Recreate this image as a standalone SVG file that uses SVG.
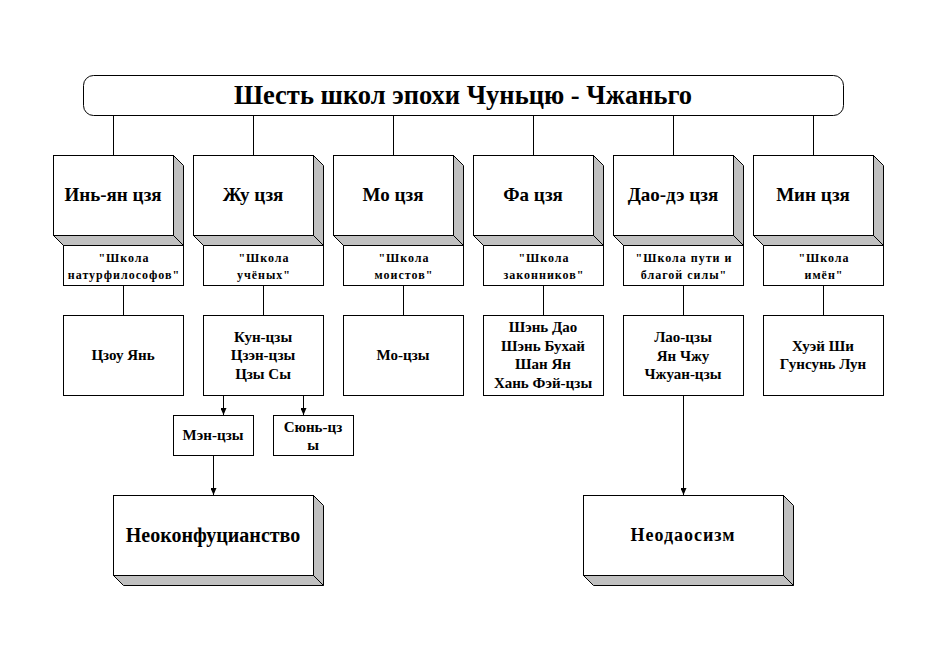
<svg xmlns="http://www.w3.org/2000/svg" width="936" height="667" viewBox="0 0 936 667">
<defs>
<style>
.t{font-family:"Liberation Serif","Times New Roman",serif;font-weight:bold;fill:#000;text-anchor:middle}
.title{font-size:26.5px}
.main{font-size:19px}
.sub{font-size:12px;letter-spacing:1px}
.per{font-size:15px}
.big{font-size:20px}
.box{fill:#fff;stroke:#000;stroke-width:1}
.ext{fill:#c0c0c0;stroke:#000;stroke-width:1;stroke-linejoin:miter}
.ln{fill:none;stroke:#000;stroke-width:1}
</style>
<marker id="ah" markerUnits="userSpaceOnUse" markerWidth="8" markerHeight="6" refX="7" refY="3" orient="auto">
<path d="M0,0 L7,3 L0,6 Z" fill="#000"/>
</marker>
</defs>
<rect width="936" height="667" fill="#fff"/>

<g id="connectors">
<path class="ln" d="M113.5,115.5V155.5M253.5,115.5V155.5M393.5,115.5V155.5M533.5,115.5V155.5M673.5,115.5V155.5M813.5,115.5V155.5"/>
<path class="ln" d="M123.5,285.5V315.5M263.5,285.5V315.5M403.5,285.5V315.5M543.5,285.5V315.5M683.5,285.5V315.5M823.5,285.5V315.5"/>
<path class="ln" d="M223.5,395.5V415" marker-end="url(#ah)"/>
<path class="ln" d="M303.5,395.5V415" marker-end="url(#ah)"/>
<path class="ln" d="M213.5,455.5V495" marker-end="url(#ah)"/>
<path class="ln" d="M683.5,395.5V495" marker-end="url(#ah)"/>
</g>

<g id="title">
<rect class="box" x="83.5" y="75.5" width="760" height="40" rx="10" ry="10"/>
<text class="t title" x="463" y="104">Шесть школ эпохи Чуньцю - Чжаньго</text>
</g>

<g id="yinyang">
<path class="ext" d="M173.5,155.5L183.5,165.5V245.5H63.5L53.5,235.5H173.5Z"/>
<path class="ln" d="M173.5,235.5L183.5,245.5"/>
<rect class="box" x="53.5" y="155.5" width="120" height="80"/>
<text class="t main" x="113" y="201">Инь-ян цзя</text>
</g>
<g id="yinyang-sub">
<rect class="box" x="63.5" y="245.5" width="120" height="40"/>
<text class="t sub" x="124" y="262">"Школа</text>
<text class="t sub" x="124" y="279">натурфилософов"</text>
</g>
<g id="zouyan">
<rect class="box" x="63.5" y="315.5" width="120" height="80"/>
<text class="t per" x="123" y="360">Цзоу Янь</text>
</g>

<g id="ru">
<path class="ext" d="M313.5,155.5L323.5,165.5V245.5H203.5L193.5,235.5H313.5Z"/>
<path class="ln" d="M313.5,235.5L323.5,245.5"/>
<rect class="box" x="193.5" y="155.5" width="120" height="80"/>
<text class="t main" x="253" y="201">Жу цзя</text>
</g>
<g id="ru-sub">
<rect class="box" x="203.5" y="245.5" width="120" height="40"/>
<text class="t sub" x="264" y="262">"Школа</text>
<text class="t sub" x="264" y="279">учёных"</text>
</g>
<g id="kongzi">
<rect class="box" x="203.5" y="315.5" width="120" height="80"/>
<text class="t per" x="263" y="342">Кун-цзы</text>
<text class="t per" x="263" y="360">Цзэн-цзы</text>
<text class="t per" x="263" y="379">Цзы Сы</text>
</g>
<g id="mengzi">
<rect class="box" x="173.5" y="415.5" width="80" height="40"/>
<text class="t per" x="213" y="440">Мэн-цзы</text>
</g>
<g id="xunzi">
<rect class="box" x="273.5" y="415.5" width="80" height="40"/>
<text class="t per" x="313" y="432">Сюнь-цз</text>
<text class="t per" x="313" y="450">ы</text>
</g>

<g id="mo">
<path class="ext" d="M453.5,155.5L463.5,165.5V245.5H343.5L333.5,235.5H453.5Z"/>
<path class="ln" d="M453.5,235.5L463.5,245.5"/>
<rect class="box" x="333.5" y="155.5" width="120" height="80"/>
<text class="t main" x="393" y="201">Мо цзя</text>
</g>
<g id="mo-sub">
<rect class="box" x="343.5" y="245.5" width="120" height="40"/>
<text class="t sub" x="404" y="262">"Школа</text>
<text class="t sub" x="404" y="279">моистов"</text>
</g>
<g id="mozi">
<rect class="box" x="343.5" y="315.5" width="120" height="80"/>
<text class="t per" x="403" y="360">Мо-цзы</text>
</g>

<g id="fa">
<path class="ext" d="M593.5,155.5L603.5,165.5V245.5H483.5L473.5,235.5H593.5Z"/>
<path class="ln" d="M593.5,235.5L603.5,245.5"/>
<rect class="box" x="473.5" y="155.5" width="120" height="80"/>
<text class="t main" x="533" y="201">Фа цзя</text>
</g>
<g id="fa-sub">
<rect class="box" x="483.5" y="245.5" width="120" height="40"/>
<text class="t sub" x="544" y="262">"Школа</text>
<text class="t sub" x="544" y="279">законников"</text>
</g>
<g id="shendao">
<rect class="box" x="483.5" y="315.5" width="120" height="80"/>
<text class="t per" x="543" y="332">Шэнь Дао</text>
<text class="t per" x="543" y="351">Шэнь Бухай</text>
<text class="t per" x="543" y="369">Шан Ян</text>
<text class="t per" x="543" y="388">Хань Фэй-цзы</text>
</g>

<g id="dao">
<path class="ext" d="M733.5,155.5L743.5,165.5V245.5H623.5L613.5,235.5H733.5Z"/>
<path class="ln" d="M733.5,235.5L743.5,245.5"/>
<rect class="box" x="613.5" y="155.5" width="120" height="80"/>
<text class="t main" x="673" y="201">Дао-дэ цзя</text>
</g>
<g id="dao-sub">
<rect class="box" x="623.5" y="245.5" width="120" height="40"/>
<text class="t sub" x="684" y="262">"Школа пути и</text>
<text class="t sub" x="684" y="279">благой силы"</text>
</g>
<g id="laozi">
<rect class="box" x="623.5" y="315.5" width="120" height="80"/>
<text class="t per" x="683" y="342">Лао-цзы</text>
<text class="t per" x="683" y="361">Ян Чжу</text>
<text class="t per" x="683" y="379">Чжуан-цзы</text>
</g>

<g id="ming">
<path class="ext" d="M873.5,155.5L883.5,165.5V245.5H763.5L753.5,235.5H873.5Z"/>
<path class="ln" d="M873.5,235.5L883.5,245.5"/>
<rect class="box" x="753.5" y="155.5" width="120" height="80"/>
<text class="t main" x="813" y="201">Мин цзя</text>
</g>
<g id="ming-sub">
<rect class="box" x="763.5" y="245.5" width="120" height="40"/>
<text class="t sub" x="824" y="262">"Школа</text>
<text class="t sub" x="824" y="279">имён"</text>
</g>
<g id="huishi">
<rect class="box" x="763.5" y="315.5" width="120" height="80"/>
<text class="t per" x="823" y="351">Хуэй Ши</text>
<text class="t per" x="823" y="369">Гунсунь Лун</text>
</g>

<g id="neoconf">
<path class="ext" d="M313.5,495.5L323.5,505.5V585.5H123.5L113.5,575.5H313.5Z"/>
<path class="ln" d="M313.5,575.5L323.5,585.5"/>
<rect class="box" x="113.5" y="495.5" width="200" height="80"/>
<text class="t big" x="213" y="542">Неоконфуцианство</text>
</g>
<g id="neodao">
<path class="ext" d="M783.5,495.5L793.5,505.5V585.5H593.5L583.5,575.5H783.5Z"/>
<path class="ln" d="M783.5,575.5L793.5,585.5"/>
<rect class="box" x="583.5" y="495.5" width="200" height="80"/>
<text class="t" x="683" y="541" style="font-size:18px;letter-spacing:1px">Неодаосизм</text>
</g>
</svg>
